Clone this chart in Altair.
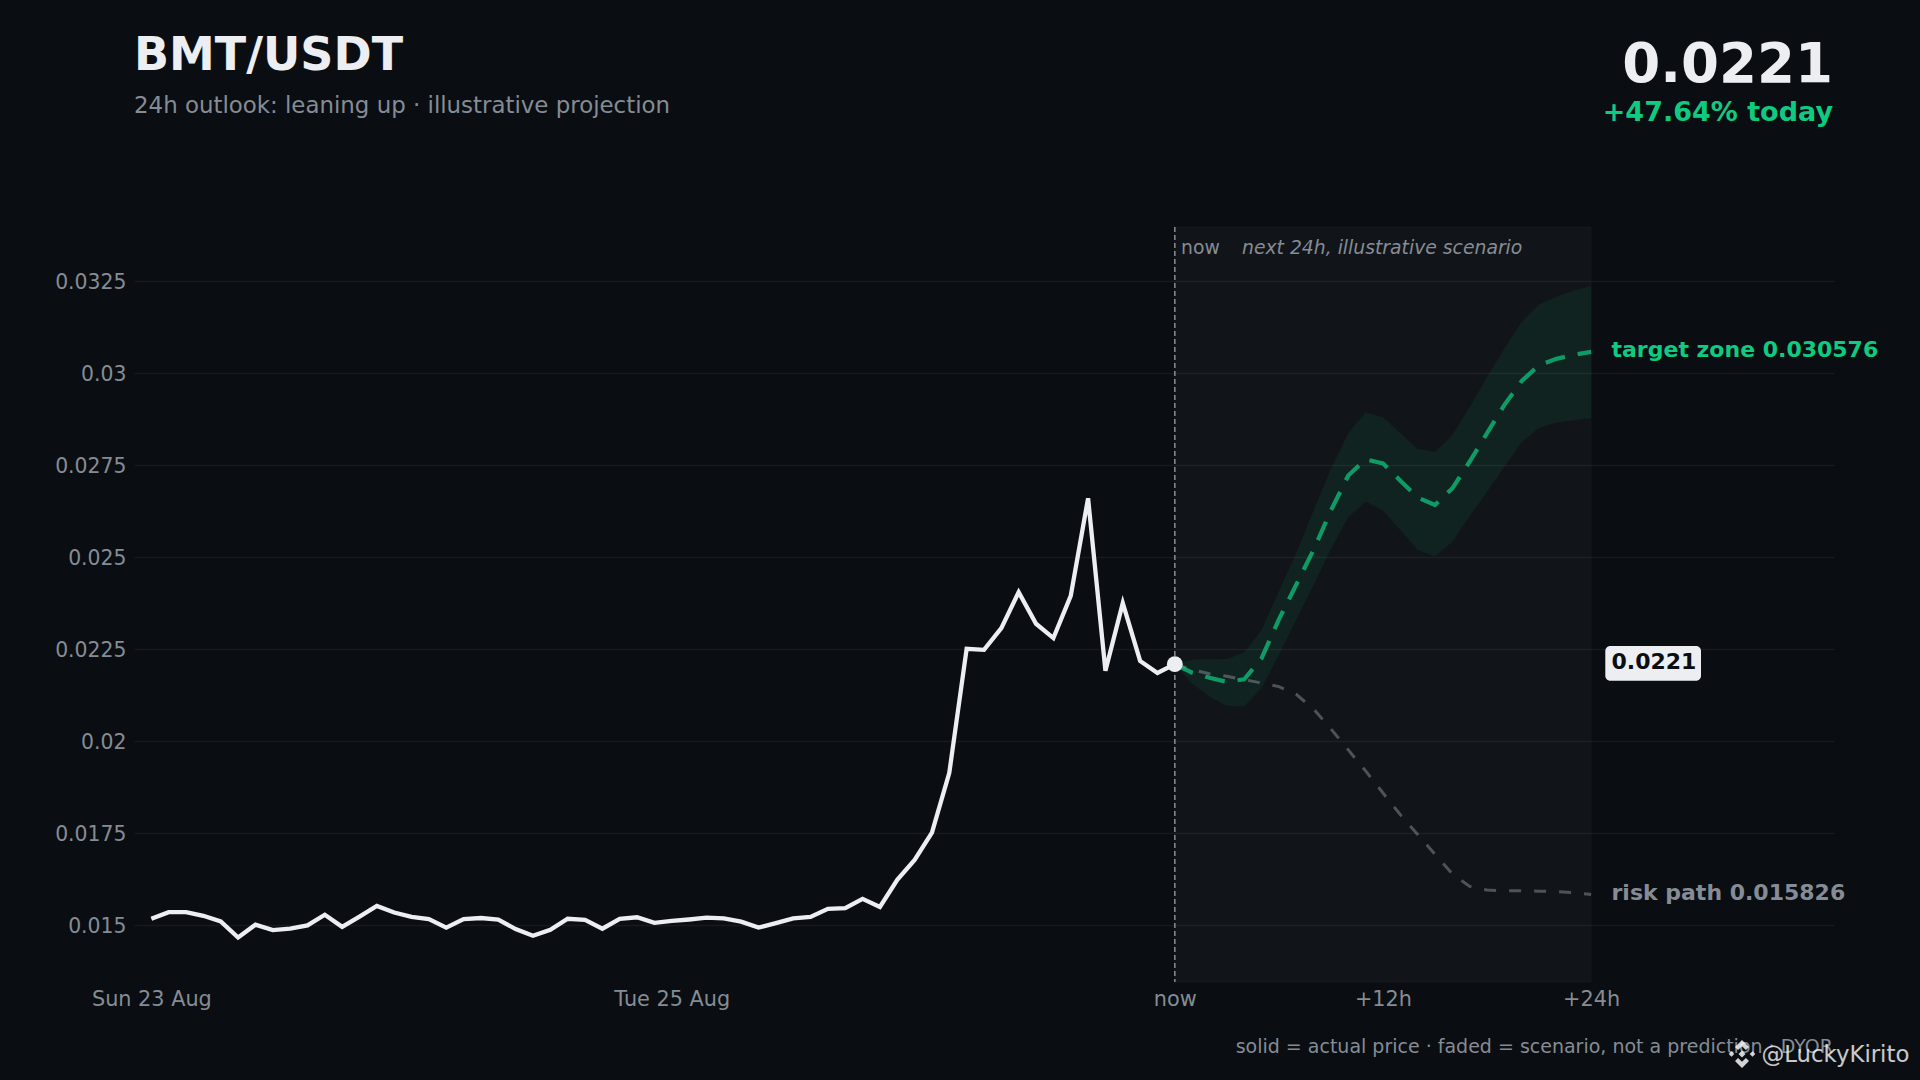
import altair as alt
import pandas as pd
from altair.utils.html import HTML_TEMPLATE

# ---- data ----
history = [
    .01517, .01535, .01535, .01525, .01510, .01466, .01501, .01486, .01490, .01499,
    .01528, .01495, .01523, .01552, .01534, .01522, .01516, .01493, .01516, .01519,
    .01515, .01489, .01471, .01487, .01517, .01514, .01490, .01517, .01521, .01506,
    .01511, .01515, .01520, .01518, .01509, .01493, .01505, .01518, .01522, .01544,
    .01546, .01571, .01549, .01623, .01677, .01751, .01914, .02251, .02248, .02307,
    .02405, .02319, .02280, .02395, .02660, .02191, .02375, .02218, .02185, .02209,
]
scenario_up = [
    .02209, .02186, .02172, .02161, .02168, .02225, .02331, .02425, .02520, .02627,
    .02722, .02766, .02755, .02708, .02662, .02642, .02687, .02760, .02837, .02914,
    .02979, .03022, .03039, .03050, .03058,
]
band_high = [
    .02209, .02221, .02223, .02223, .02241, .02302, .02407, .02511, .02627, .02740,
    .02837, .02893, .02880, .02837, .02794, .02786, .02832, .02908, .02989, .03068,
    .03140, .03187, .03208, .03224, .03237,
]
band_low = [
    .02209, .02156, .02121, .02096, .02094, .02144, .02235, .02330, .02425, .02522,
    .02609, .02651, .02627, .02574, .02520, .02502, .02542, .02612, .02678, .02746,
    .02813, .02852, .02866, .02872, .02878,
]
scenario_risk = [
    .02209, .02194, .02183, .02176, .02167, .02158, .02148, .02127, .02087, .02033,
    .01976, .01919, .01859, .01800, .01746, .01692, .01639, .01605, .01595, .01593,
    .01593, .01592, .01591, .01588, .01583,
]
x_tick_hours = [0, 30, 59, 71, 83]
x_tick_labels = ["Sun 23 Aug", "Tue 25 Aug", "now", "+12h", "+24h"]
y_ticks = [0.015, 0.0175, 0.02, 0.0225, 0.025, 0.0275, 0.03, 0.0325]
NOW = 59
END = 83

BG = "#0a0e12"
INK = "#eceef2"
MUTED = "#858c95"
GREEN = "#0ecb81"
FONT = "DejaVu Sans"

# plot-area origin on the page
PX0, PY0 = 134, 227
W, H = 1700, 755

x_scale = alt.Scale(domain=[-1, 97], nice=False, zero=False)
y_scale = alt.Scale(domain=[0.013451, 0.033975], nice=False, zero=False)

label_map = "{" + ",".join(f"'{h}':'{t}'" for h, t in zip(x_tick_hours, x_tick_labels)) + "}"

x_axis = alt.Axis(
    values=x_tick_hours, labelExpr=f"{label_map}[datum.value]", grid=False, title=None,
    domain=False, ticks=False, labelPadding=7, labelFontSize=20.8, labelFont=FONT,
    labelColor=MUTED, labelOverlap=False, labelFlush=False)
y_axis = alt.Axis(
    values=y_ticks, format=".4~f", grid=True, gridColor="#ffffff", gridOpacity=0.055,
    gridWidth=1.5, domain=False, ticks=False, labelPadding=8, labelFontSize=20.4, title=None,
    labelOffset=1, labelFont=FONT, labelColor=MUTED, labelOverlap=False)

hist_df = pd.DataFrame({"h": range(len(history)), "v": history})
fut_hours = list(range(NOW, END + 1))
fut_df = pd.DataFrame({"h": fut_hours, "up": scenario_up, "hi": band_high,
                       "lo": band_low, "risk": scenario_risk})


def X(f="h"):
    return alt.X(f"{f}:Q", scale=x_scale, axis=x_axis)


def Y(f):
    return alt.Y(f"{f}:Q", scale=y_scale, axis=y_axis)


shade = alt.Chart(pd.DataFrame({"a": [NOW], "b": [END]})).mark_rect(
    fill="#ffffff", fillOpacity=0.03, stroke="#ffffff", strokeOpacity=0.03, strokeWidth=1
).encode(x=X("a"), x2="b:Q")

now_rule = alt.Chart(pd.DataFrame({"a": [NOW]})).mark_rule(
    color=MUTED, strokeWidth=1.6, strokeDash=[5, 3], opacity=0.95
).encode(x=X("a"))

band = alt.Chart(fut_df).mark_area(color=GREEN, opacity=0.08, interpolate="linear").encode(
    x=X(), y=Y("lo"), y2="hi:Q"
)
risk_line = alt.Chart(fut_df).mark_line(
    color=MUTED, opacity=0.52, strokeWidth=3, strokeDash=[12, 13], strokeCap="butt"
).encode(x=X(), y=Y("risk"))
up_line = alt.Chart(fut_df).mark_line(
    color=GREEN, opacity=0.72, strokeWidth=4.2, strokeDash=[20, 13], strokeCap="butt"
).encode(x=X(), y=Y("up"))

hist_line = alt.Chart(hist_df).mark_line(
    color=INK, strokeWidth=4.3, strokeJoin="miter"
).encode(x=X(), y=Y("v"))

now_dot = alt.Chart(hist_df[hist_df.h == NOW]).mark_point(
    filled=True, color=INK, opacity=1, size=250
).encode(x=X(), y=Y("v"))


def note(text, px, py, size, color, weight="normal", align="left", style="normal", opacity=1.0):
    return alt.Chart(pd.DataFrame({"t": [text]})).mark_text(
        font=FONT, fontSize=size, color=color, fontWeight=weight, align=align,
        baseline="alphabetic", fontStyle=style, opacity=opacity,
    ).encode(text="t:N", x=alt.value(px - PX0), y=alt.value(py - PY0))


price_box = alt.Chart(pd.DataFrame({"k": [1]})).mark_rect(
    fill=INK, cornerRadius=5
).encode(x=alt.value(1605.3 - PX0), x2=alt.value(1701 - PX0),
         y=alt.value(646 - PY0), y2=alt.value(680.7 - PY0))

LOGO = (
    "M0,-1L0.5,-0.5L0.28,-0.28L0,-0.56L-0.28,-0.28L-0.5,-0.5Z"
    "M0,1L0.5,0.5L0.28,0.28L0,0.56L-0.28,0.28L-0.5,0.5Z"
    "M0,-0.25L0.25,0L0,0.25L-0.25,0Z"
    "M-0.75,-0.2L-0.55,0L-0.75,0.2L-0.95,0Z"
    "M0.75,-0.2L0.95,0L0.75,0.2L0.55,0Z"
)
logo = alt.Chart(pd.DataFrame({"k": [1]})).mark_point(
    shape=LOGO, filled=True, color="#ffffff", opacity=0.82, size=784
).encode(x=alt.value(1742 - PX0), y=alt.value(1054 - PY0))

chart = alt.layer(
    shade, now_rule, band, risk_line, up_line, hist_line, now_dot,
    note("BMT/USDT", 134, 70, 46, INK, weight="bold"),
    note("24h outlook: leaning up · illustrative projection", 134, 113, 22.9, MUTED),
    note("0.0221", 1833, 82, 54.6, INK, weight="bold", align="right"),
    note("+47.64% today", 1833, 121, 27, GREEN, weight="bold", align="right"),
    note("now", 1181, 254, 18.8, MUTED),
    note("next 24h, illustrative scenario", 1242, 254, 18.8, MUTED, style="italic"),
    note("target zone 0.030576", 1611.5, 357, 22, GREEN, weight="bold"),
    note("risk path 0.015826", 1611.5, 900, 22, MUTED, weight="bold"),
    price_box,
    note("0.0221", 1611.5, 669, 22, "#0a0e12", weight="bold"),
    note("solid = actual price · faded = scenario, not a prediction · DYOR", 1833, 1053, 19, MUTED, align="right"),
    logo,
    note("@LuckyKirito", 1761.5, 1062, 22.8, "#ffffff", opacity=0.78),
).properties(
    width=W, height=H,
    background=BG,
    autosize=alt.AutoSizeParams(type="none"),
    padding={"left": PX0, "top": PY0, "right": 1920 - PX0 - W, "bottom": 1080 - PY0 - H},
).configure_view(stroke=None)


class FullBleedPage:
    """The standard page, with the body margin gone: the reference has no light edge."""

    def render(self, **kw):
        css = "<style>\n    html,body{margin:0;padding:0;background:" + BG + ";overflow:hidden}\n"
        return HTML_TEMPLATE.render(**kw).replace("<style>", css, 1)


chart.save("out.html", embed_options={"renderer": "svg", "actions": False}, template=FullBleedPage())
